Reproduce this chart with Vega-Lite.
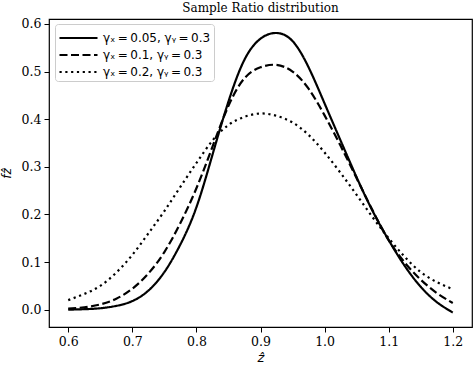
{
  "$schema": "https://vega.github.io/schema/vega-lite/v6.json",
  "width": 423,
  "height": 308,
  "autosize": "none",
  "padding": {"left": 49, "top": 19, "right": 2, "bottom": 39},
  "background": "white",
  "title": {"text": "Sample Ratio distribution", "font": "DejaVu Serif", "fontSize": 12, "fontWeight": "normal", "offset": 3, "color": "black"},
  "datasets": {
    "curves": [
      {"x": 0.6, "s": "a", "f": 0.000}, {"x": 0.6, "s": "b", "f": 0.002}, {"x": 0.6, "s": "c", "f": 0.020},
      {"x": 0.625, "s": "a", "f": 0.001}, {"x": 0.625, "s": "b", "f": 0.005}, {"x": 0.625, "s": "c", "f": 0.033},
      {"x": 0.65, "s": "a", "f": 0.003}, {"x": 0.65, "s": "b", "f": 0.011}, {"x": 0.65, "s": "c", "f": 0.050},
      {"x": 0.675, "s": "a", "f": 0.008}, {"x": 0.675, "s": "b", "f": 0.023}, {"x": 0.675, "s": "c", "f": 0.078},
      {"x": 0.7, "s": "a", "f": 0.018}, {"x": 0.7, "s": "b", "f": 0.044}, {"x": 0.7, "s": "c", "f": 0.115},
      {"x": 0.725, "s": "a", "f": 0.040}, {"x": 0.725, "s": "b", "f": 0.076}, {"x": 0.725, "s": "c", "f": 0.160},
      {"x": 0.75, "s": "a", "f": 0.079}, {"x": 0.75, "s": "b", "f": 0.121}, {"x": 0.75, "s": "c", "f": 0.207},
      {"x": 0.775, "s": "a", "f": 0.137}, {"x": 0.775, "s": "b", "f": 0.182}, {"x": 0.775, "s": "c", "f": 0.258},
      {"x": 0.8, "s": "a", "f": 0.215}, {"x": 0.8, "s": "b", "f": 0.255}, {"x": 0.8, "s": "c", "f": 0.308},
      {"x": 0.825, "s": "a", "f": 0.325}, {"x": 0.825, "s": "b", "f": 0.342}, {"x": 0.825, "s": "c", "f": 0.355},
      {"x": 0.85, "s": "a", "f": 0.437}, {"x": 0.85, "s": "b", "f": 0.428}, {"x": 0.85, "s": "c", "f": 0.388},
      {"x": 0.875, "s": "a", "f": 0.525}, {"x": 0.875, "s": "b", "f": 0.486}, {"x": 0.875, "s": "c", "f": 0.405},
      {"x": 0.9, "s": "a", "f": 0.569}, {"x": 0.9, "s": "b", "f": 0.509}, {"x": 0.9, "s": "c", "f": 0.412},
      {"x": 0.925, "s": "a", "f": 0.581}, {"x": 0.925, "s": "b", "f": 0.514}, {"x": 0.925, "s": "c", "f": 0.407},
      {"x": 0.95, "s": "a", "f": 0.564}, {"x": 0.95, "s": "b", "f": 0.500}, {"x": 0.95, "s": "c", "f": 0.393},
      {"x": 0.975, "s": "a", "f": 0.509}, {"x": 0.975, "s": "b", "f": 0.464}, {"x": 0.975, "s": "c", "f": 0.367},
      {"x": 1.0, "s": "a", "f": 0.433}, {"x": 1.0, "s": "b", "f": 0.408}, {"x": 1.0, "s": "c", "f": 0.330},
      {"x": 1.025, "s": "a", "f": 0.355}, {"x": 1.025, "s": "b", "f": 0.344}, {"x": 1.025, "s": "c", "f": 0.287},
      {"x": 1.05, "s": "a", "f": 0.278}, {"x": 1.05, "s": "b", "f": 0.276}, {"x": 1.05, "s": "c", "f": 0.241},
      {"x": 1.075, "s": "a", "f": 0.207}, {"x": 1.075, "s": "b", "f": 0.208}, {"x": 1.075, "s": "c", "f": 0.194},
      {"x": 1.1, "s": "a", "f": 0.146}, {"x": 1.1, "s": "b", "f": 0.146}, {"x": 1.1, "s": "c", "f": 0.150},
      {"x": 1.125, "s": "a", "f": 0.092}, {"x": 1.125, "s": "b", "f": 0.099}, {"x": 1.125, "s": "c", "f": 0.111},
      {"x": 1.15, "s": "a", "f": 0.048}, {"x": 1.15, "s": "b", "f": 0.063}, {"x": 1.15, "s": "c", "f": 0.079},
      {"x": 1.175, "s": "a", "f": 0.016}, {"x": 1.175, "s": "b", "f": 0.035}, {"x": 1.175, "s": "c", "f": 0.058},
      {"x": 1.2, "s": "a", "f": -0.006}, {"x": 1.2, "s": "b", "f": 0.014}, {"x": 1.2, "s": "c", "f": 0.043}
    ]
  },
  "data": {"name": "curves"},
  "mark": {"type": "line", "color": "black", "strokeWidth": 2.2, "interpolate": "natural", "clip": true},
  "encoding": {
    "x": {
      "field": "x", "type": "quantitative",
      "scale": {"domain": [0.57, 1.23], "nice": false, "zero": false},
      "axis": {"values": [0.6, 0.7, 0.8, 0.9, 1.0, 1.1, 1.2], "format": ".1f", "title": "ẑ", "titleFont": "DejaVu Sans", "titleFontStyle": "italic", "titleFontSize": 13, "titlePadding": 4}
    },
    "y": {
      "field": "f", "type": "quantitative",
      "scale": {"domain": [-0.0364, 0.6104], "nice": false, "zero": false},
      "axis": {"values": [0, 0.1, 0.2, 0.3, 0.4, 0.5, 0.6], "format": ".1f", "title": "fẑ", "titleFont": "DejaVu Sans", "titleFontStyle": "italic", "titleFontSize": 12, "titlePadding": 8}
    },
    "strokeDash": {
      "field": "s", "type": "nominal",
      "scale": {"domain": ["a", "b", "c"], "range": [[1, 0], [8, 3.5], [2.2, 3.6]]},
      "legend": {
        "title": null,
        "orient": "none", "legendX": 6, "legendY": 5,
        "labelExpr": "datum.value == 'a' ? 'γₓ\u2009=\u20090.05, γᵧ\u2009=\u20090.3' : datum.value == 'b' ? 'γₓ\u2009=\u20090.1, γᵧ\u2009=\u20090.3' : 'γₓ\u2009=\u20090.2, γᵧ\u2009=\u20090.3'",
        "symbolType": "M-1,0H3", "symbolSize": 361, "symbolStrokeWidth": 2.2, "symbolStrokeColor": "black",
        "labelFont": "DejaVu Sans", "labelFontSize": 12, "labelColor": "black", "labelOffset": 23,
        "rowPadding": 0, "padding": 3,
        "fillColor": "white", "strokeColor": "#cccccc", "cornerRadius": 3
      }
    }
  },
  "config": {
    "view": {"stroke": "black", "strokeWidth": 1.2},
    "axis": {
      "domain": false, "grid": false,
      "ticks": true, "tickColor": "black", "tickSize": 5, "tickWidth": 1,
      "labelFont": "DejaVu Serif", "labelFontSize": 12.5, "labelColor": "black", "labelPadding": 3,
      "titleColor": "black", "titleFontWeight": "normal"
    }
  }
}
